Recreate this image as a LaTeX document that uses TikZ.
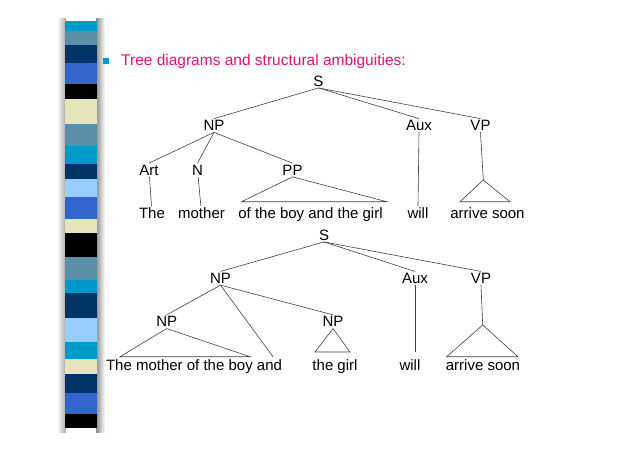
\documentclass[tikz,border=0pt]{standalone}
\usepackage{fontspec}
\setmainfont{Liberation Sans}
\definecolor{cy}{RGB}{0,153,204}
\definecolor{st}{RGB}{91,143,168}
\definecolor{nv}{RGB}{0,51,102}
\definecolor{ry}{RGB}{51,102,204}
\definecolor{bk}{RGB}{0,0,0}
\definecolor{bg}{RGB}{230,228,186}
\definecolor{lb}{RGB}{153,204,255}
\definecolor{pinktext}{RGB}{230,16,110}
\begin{document}
\begin{tikzpicture}[x=1pt,y=-1pt]
	\tikzset{lab/.style = {inner sep=1.5pt, text depth=0pt, font=\fontsize{15}{18}\selectfont}}
	\tikzset{br/.style = {line width=0.6pt, draw=black!75}}

	\useasboundingbox (0,0) rectangle (638,451);

	% striped band with its shadow
	\shade[left color=white, right color=black!35] (57,18) rectangle (66,432);
	\shade[left color=black!45, right color=white] (96,18) rectangle (105,432);
	\foreach \ya/\yb/\c in {21/30.7/cy, 30.7/45/st, 45/62.7/nv, 62.7/84/ry, 84/99.3/bk,
		99.3/124/bg, 124/146/st, 146/164/cy, 164/179/nv, 179/197.3/lb, 197.3/219.3/ry,
		219.3/232.7/bg, 232.7/257.3/bk, 257.3/280/st, 280/292.7/cy, 292.7/318.3/nv,
		318.3/341.7/lb, 341.7/359.3/cy, 359.3/374/bg, 374/392.7/nv, 392.7/414/ry, 414/428.3/bk}
		\fill[\c] (65,\ya) rectangle (97,\yb);

	\fill[cy] (103,58) rectangle (109,64);
	\node[lab, anchor=west, inner sep=0pt, text=pinktext, font=\fontsize{15.5}{18}\selectfont] (title) at (121,60) {Tree diagrams and structural ambiguities:};

	% first tree
	\node[lab] (S_1) at (318.5,81) {S};
	\node[lab] (NP_1) at (214,125.5) {NP};
	\node[lab] (Aux_1) at (419,125.5) {Aux};
	\node[lab] (VP_1) at (480.5,125.5) {VP};
	\node[lab] (Art_1) at (149,170) {Art};
	\node[lab] (N_1) at (197.5,170) {N};
	\node[lab] (PP_1) at (292.5,170) {PP};
	\node[lab] (The_1) at (152,213) {The};
	\node[lab] (mother_1) at (201.5,213) {mother};
	\node[lab] (of_1) at (310.5,213) {of the boy and the girl};
	\node[lab] (will_1) at (418,213) {will};
	\node[lab] (arrive_1) at (487.5,213) {arrive soon};

	\coordinate (PPl_1) at (241.7,201.7);
	\coordinate (PPr_1) at (386.7,201.7);
	\coordinate (VPt_1) at (483.3,180);
	\coordinate (VPl_1) at (460,201.7);
	\coordinate (VPr_1) at (510,201.7);

	\draw[br] (S_1.south)--(NP_1.north);
	\draw[br] (S_1.south)--(Aux_1.north);
	\draw[br] (S_1.south)--(VP_1.north);
	\draw[br] (NP_1.south)--(Art_1.north);
	\draw[br] (NP_1.south)--(N_1.north);
	\draw[br] (NP_1.south)--(PP_1.north);
	\draw[br] (Art_1)--(The_1);
	\draw[br] (N_1)--(mother_1);
	\draw[br] (PP_1.south)--(PPl_1)--(PPr_1)--cycle;
	\draw[br] (Aux_1.south)--(will_1.north);
	\draw[br] (VP_1.south)--(VPt_1);
	\draw[br] (VPt_1)--(VPl_1)--(VPr_1)--cycle;

	% second tree
	\node[lab] (S_2) at (324,235) {S};
	\node[lab] (NP_2) at (220.5,278.3) {NP};
	\node[lab] (Aux_2) at (415,278.3) {Aux};
	\node[lab] (VP_2) at (481,278.3) {VP};
	\node[lab] (NPa_2) at (166.7,321.7) {NP};
	\node[lab] (NPb_2) at (333,321.7) {NP};
	\node[lab] (mother_2) at (194,365) {The mother of the boy and};
	\node[lab] (girl_2) at (335,365) {the girl};
	\node[lab] (will_2) at (410,365) {will};
	\node[lab] (arrive_2) at (483,365) {arrive soon};

	\coordinate (and_2) at (273,356.7);
	\coordinate (NPal_2) at (120,356.7);
	\coordinate (NPar_2) at (250,356.7);
	\coordinate (NPbl_2) at (315,352);
	\coordinate (NPbr_2) at (350,352);
	\coordinate (VPt_2) at (482.7,325);
	\coordinate (VPl_2) at (446.7,356.7);
	\coordinate (VPr_2) at (518,356.7);

	\draw[br] (S_2.south)--(NP_2.north);
	\draw[br] (S_2.south)--(Aux_2.north);
	\draw[br] (S_2.south)--(VP_2.north);
	\draw[br] (NP_2.south)--(NPa_2.north);
	\draw[br] (NP_2.south)--(and_2);
	\draw[br] (NP_2.south)--(NPb_2.north);
	\draw[br] (NPa_2.south)--(NPal_2)--(NPar_2)--cycle;
	\draw[br] (NPb_2.south)--(NPbl_2)--(NPbr_2)--cycle;
	\draw[br, shorten >=6pt] (Aux_2.south)--(Aux_2.south |- will_2.north);
	\draw[br] (VP_2.south)--(VPt_2);
	\draw[br] (VPt_2)--(VPl_2)--(VPr_2)--cycle;

\end{tikzpicture}
\end{document}
